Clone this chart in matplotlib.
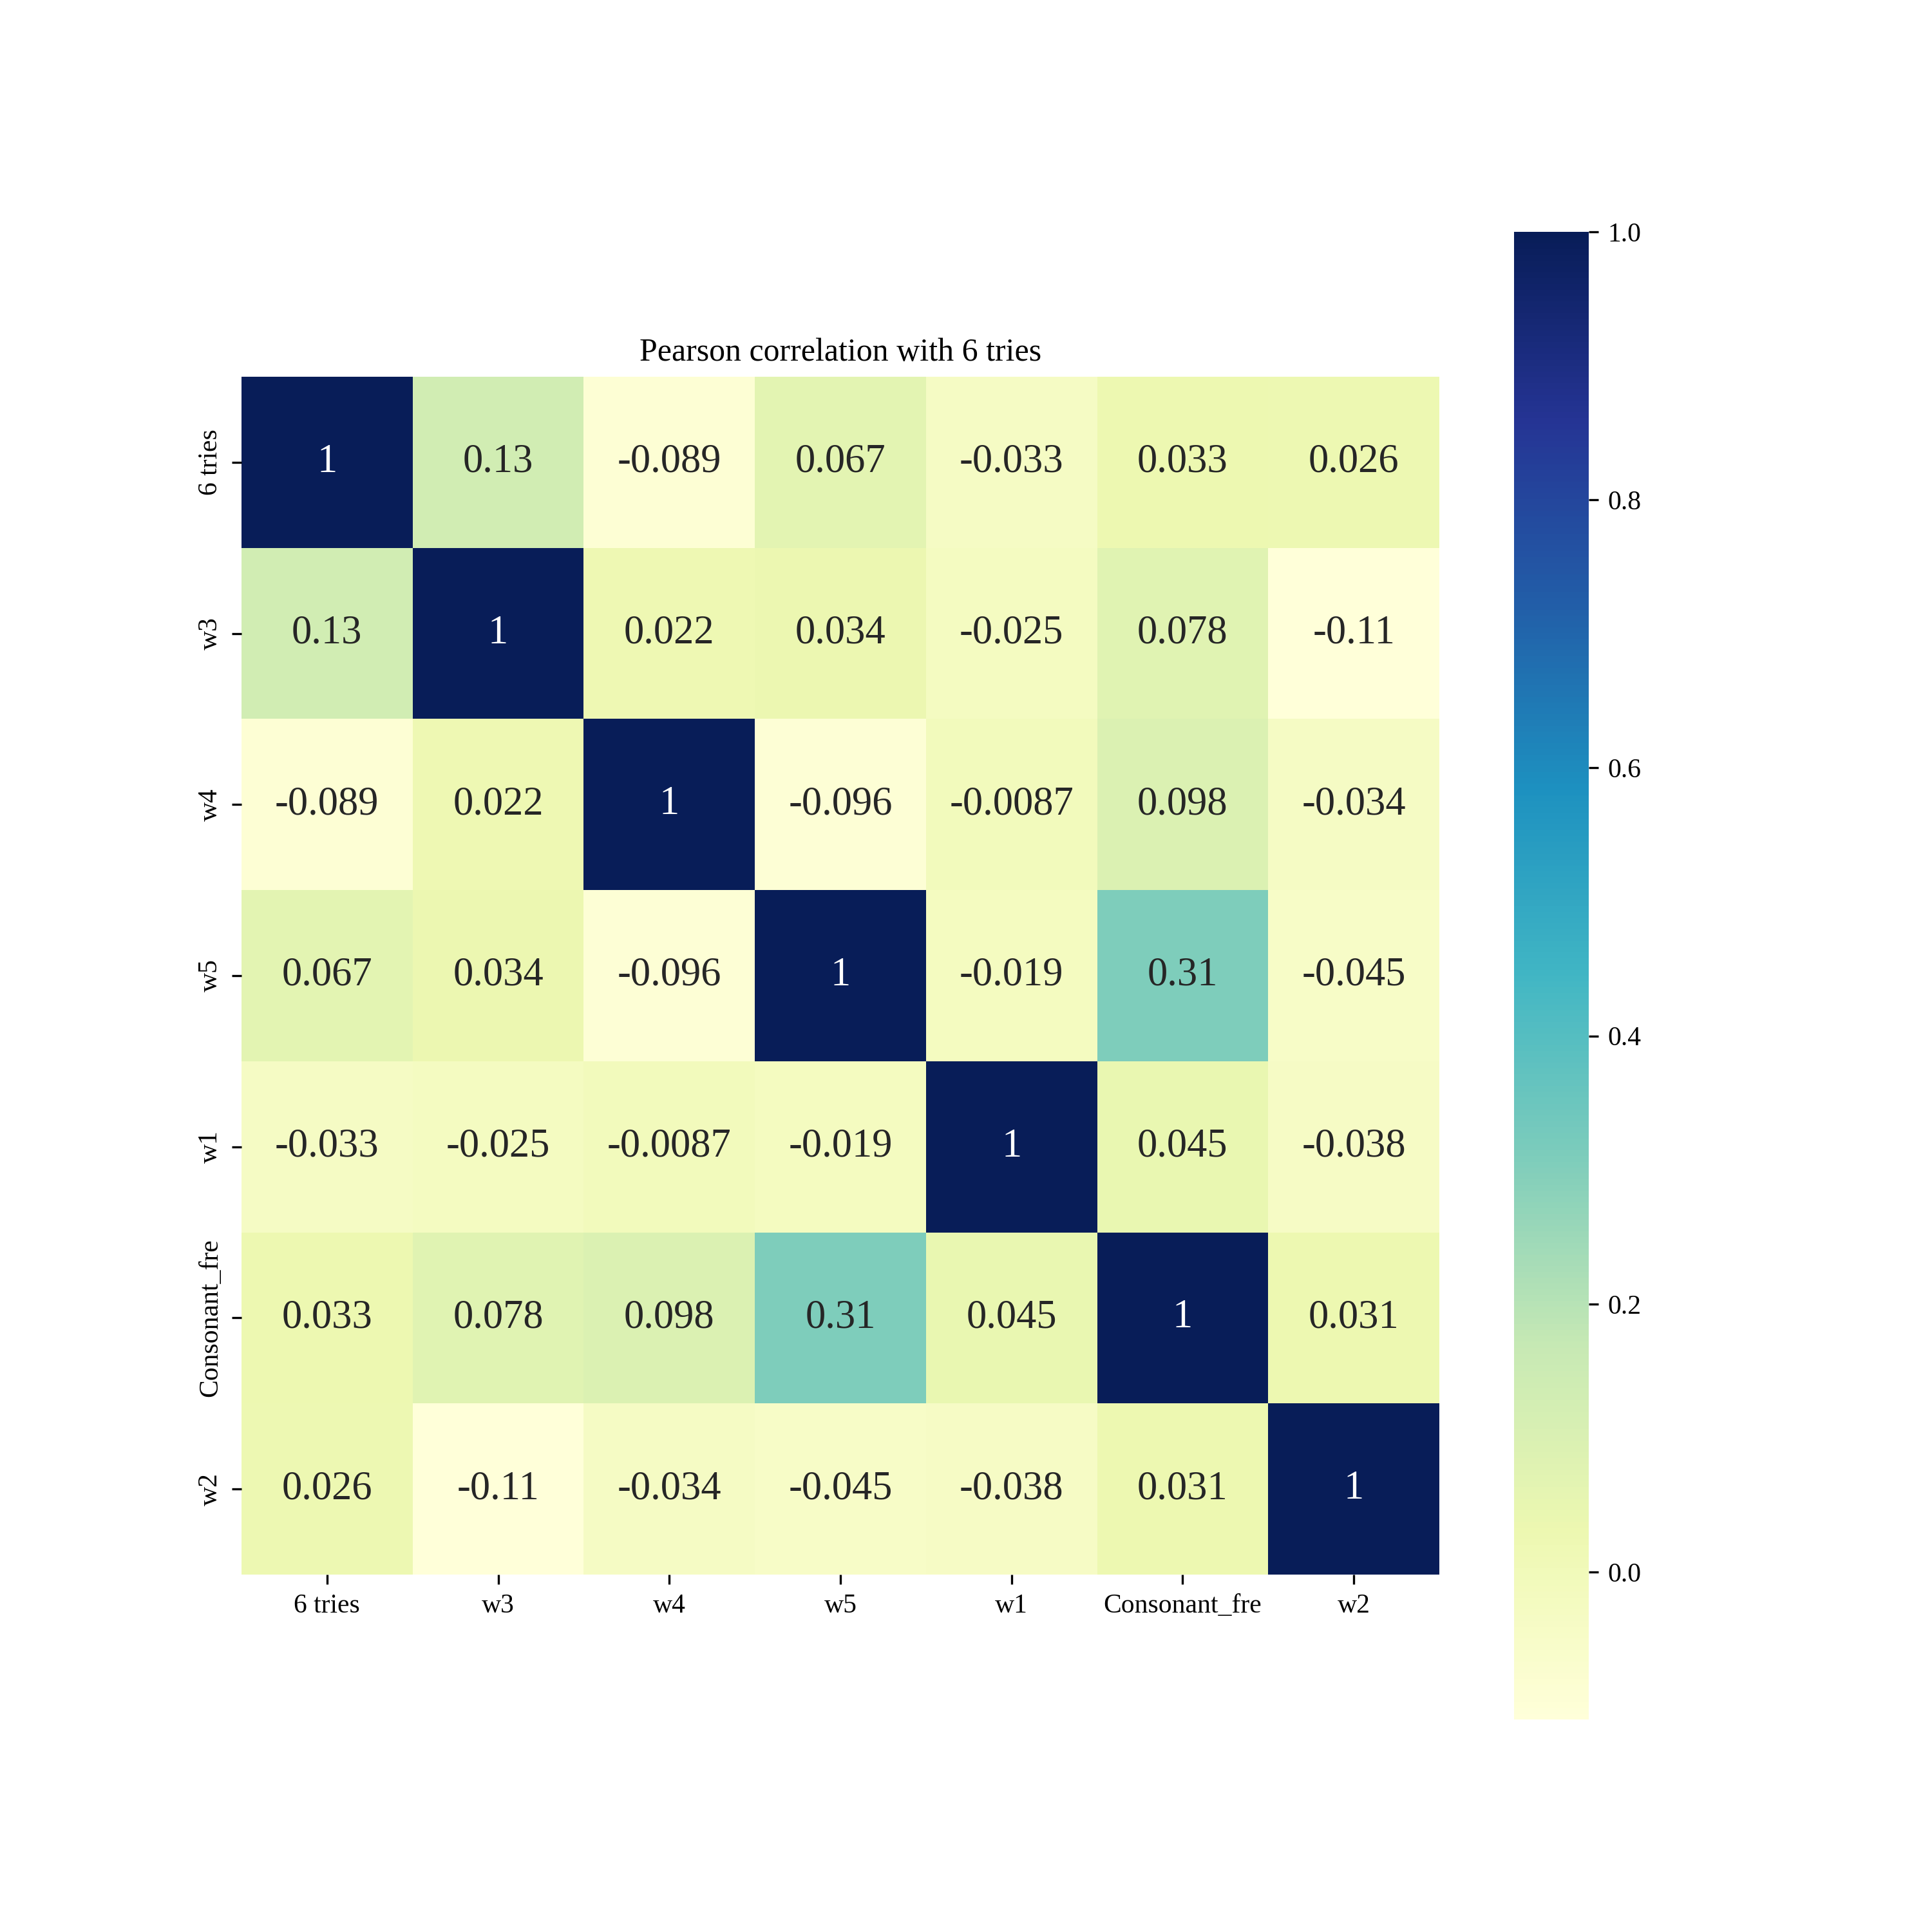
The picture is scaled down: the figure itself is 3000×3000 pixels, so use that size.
import matplotlib
matplotlib.use("Agg")
import matplotlib.pyplot as plt
import seaborn as sns
import numpy as np
import pandas as pd

labels = ["6 tries", "w3", "w4", "w5", "w1", "Consonant_fre", "w2"]
corr = np.array([
    [1, 0.13, -0.089, 0.067, -0.033, 0.033, 0.026],
    [0.13, 1, 0.022, 0.034, -0.025, 0.078, -0.11],
    [-0.089, 0.022, 1, -0.096, -0.0087, 0.098, -0.034],
    [0.067, 0.034, -0.096, 1, -0.019, 0.31, -0.045],
    [-0.033, -0.025, -0.0087, -0.019, 1, 0.045, -0.038],
    [0.033, 0.078, 0.098, 0.31, 0.045, 1, 0.031],
    [0.026, -0.11, -0.034, -0.045, -0.038, 0.031, 1],
])
df = pd.DataFrame(corr, index=labels, columns=labels)

plt.rcParams['font.family'] = ['Liberation Serif', 'DejaVu Serif']

fig, ax = plt.subplots(figsize=(10, 10))
sns.heatmap(df, annot=True, cmap="YlGnBu", square=True, ax=ax,
            annot_kws={"size": 15})
ax.set_title("Pearson correlation with 6 tries")
plt.savefig("out.png", dpi=300)
